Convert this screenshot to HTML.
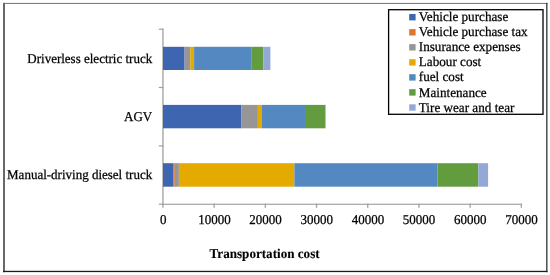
<!DOCTYPE html>
<html>
<head>
<meta charset="utf-8">
<style>
html,body{margin:0;padding:0;background:#fff;}
body{width:550px;height:275px;overflow:hidden;position:relative;}
svg{position:absolute;left:0;top:0;display:block;filter:blur(0.3px);}
text{font-family:"Liberation Serif","Times New Roman",serif;font-size:13.5px;fill:#000;stroke:#000;stroke-width:0.25px;text-rendering:geometricPrecision;}
.b{font-weight:bold;stroke-width:0.1px;}
</style>
</head>
<body>
<svg width="550" height="275" viewBox="0 0 550 275">
  <rect x="3" y="2.9" width="544.5" height="1.1" fill="#7c7c7c"/>
  <rect x="3" y="2.9" width="2" height="269.3" fill="#686868"/>
  <rect x="546.1" y="2.9" width="1.4" height="269.3" fill="#404040"/>
  <rect x="3" y="270.8" width="544.5" height="1.3" fill="#1c1c1c"/>
  <g fill="#a0a0a0">
    <rect x="162.3" y="28.6" width="1.3" height="179.1"/>
    <rect x="158.8" y="28.6" width="4.5" height="1.2"/>
    <rect x="158.8" y="86.9" width="4.5" height="1.2"/>
    <rect x="158.8" y="145.3" width="4.5" height="1.2"/>
    <rect x="158.8" y="203.6" width="4.5" height="1.2"/>
    <rect x="162.3" y="203.7" width="359.6" height="1.15"/>
    <rect x="213.5" y="203.6" width="1.3" height="4.2"/>
    <rect x="264.7" y="203.6" width="1.3" height="4.2"/>
    <rect x="315.9" y="203.6" width="1.3" height="4.2"/>
    <rect x="367.1" y="203.6" width="1.3" height="4.2"/>
    <rect x="418.3" y="203.6" width="1.3" height="4.2"/>
    <rect x="469.5" y="203.6" width="1.3" height="4.2"/>
    <rect x="520.7" y="203.6" width="1.3" height="4.2"/>
  </g>
  <g>
    <rect x="163.0" y="46.8" width="21.6" height="23.2" fill="#3E66B0"/>
    <rect x="184.6" y="46.8" width="5.7" height="23.2" fill="#969696"/>
    <rect x="190.3" y="46.8" width="3.8" height="23.2" fill="#E5AA00"/>
    <rect x="194.1" y="46.8" width="57.6" height="23.2" fill="#5389C0"/>
    <rect x="251.6" y="46.8" width="11.8" height="23.2" fill="#629C3F"/>
    <rect x="263.4" y="46.8" width="7.0" height="23.2" fill="#94A8D8"/>
  </g>
  <g>
    <rect x="163.0" y="104.9" width="78.5" height="23.4" fill="#3E66B0"/>
    <rect x="241.5" y="104.9" width="16.4" height="23.4" fill="#969696"/>
    <rect x="257.9" y="104.9" width="4.1" height="23.4" fill="#E5AA00"/>
    <rect x="262.0" y="104.9" width="43.0" height="23.4" fill="#5389C0"/>
    <rect x="305.0" y="104.9" width="20.3" height="23.4" fill="#629C3F"/>
    <rect x="325.3" y="104.9" width="0.5" height="23.4" fill="#94A8D8"/>
  </g>
  <g>
    <rect x="163.0" y="163.2" width="10.1" height="23.5" fill="#3E66B0"/>
    <rect x="173.1" y="163.2" width="1.7" height="23.5" fill="#E07530"/>
    <rect x="174.8" y="163.2" width="4.1" height="23.5" fill="#969696"/>
    <rect x="178.9" y="163.2" width="115.5" height="23.5" fill="#E5AA00"/>
    <rect x="294.4" y="163.2" width="143.1" height="23.5" fill="#5389C0"/>
    <rect x="437.5" y="163.2" width="40.9" height="23.5" fill="#629C3F"/>
    <rect x="478.4" y="163.2" width="9.7" height="23.5" fill="#94A8D8"/>
  </g>
  <text transform="translate(152.2 62.5) scale(0.9630 1)" text-anchor="end">Driverless electric truck</text>
  <text transform="translate(152.2 120.8) scale(0.9630 1)" text-anchor="end">AGV</text>
  <text transform="translate(152.2 179.1) scale(0.9630 1)" text-anchor="end">Manual-driving diesel truck</text>
  <g text-anchor="middle">
    <text transform="translate(163.2 223.6) scale(0.9630 1)">0</text>
    <text transform="translate(214.4 223.6) scale(0.9630 1)">10000</text>
    <text transform="translate(265.6 223.6) scale(0.9630 1)">20000</text>
    <text transform="translate(316.8 223.6) scale(0.9630 1)">30000</text>
    <text transform="translate(367.9 223.6) scale(0.9630 1)">40000</text>
    <text transform="translate(419.1 223.6) scale(0.9630 1)">50000</text>
    <text transform="translate(470.3 223.6) scale(0.9630 1)">60000</text>
    <text transform="translate(521.5 223.6) scale(0.9630 1)">70000</text>
  </g>
  <text class="b" transform="translate(264.6 258.3) scale(0.9704 1)" text-anchor="middle">Transportation cost</text>
  <rect x="388.6" y="9.7" width="154.4" height="104.6" fill="none" stroke="#000" stroke-width="1.3"/>
  <rect x="409.2" y="14.0" width="6.4" height="6.4" fill="#3E66B0"/>
  <text transform="translate(418.8 21.2) scale(0.9741 1)">Vehicle purchase</text>
  <rect x="409.2" y="29.1" width="6.4" height="6.4" fill="#E07530"/>
  <text transform="translate(418.8 36.2) scale(0.9741 1)">Vehicle purchase tax</text>
  <rect x="409.2" y="44.1" width="6.4" height="6.4" fill="#969696"/>
  <text transform="translate(418.8 51.3) scale(0.9741 1)">Insurance expenses</text>
  <rect x="409.2" y="59.2" width="6.4" height="6.4" fill="#E5AA00"/>
  <text transform="translate(418.8 66.4) scale(0.9741 1)">Labour cost</text>
  <rect x="409.2" y="74.2" width="6.4" height="6.4" fill="#5389C0"/>
  <text transform="translate(418.8 81.4) scale(0.9741 1)">fuel cost</text>
  <rect x="409.2" y="89.2" width="6.4" height="6.4" fill="#629C3F"/>
  <text transform="translate(418.8 96.5) scale(0.9741 1)">Maintenance</text>
  <rect x="409.2" y="104.3" width="6.4" height="6.4" fill="#94A8D8"/>
  <text transform="translate(418.8 111.5) scale(0.9741 1)">Tire wear and tear</text>
</svg>
</body>
</html>
